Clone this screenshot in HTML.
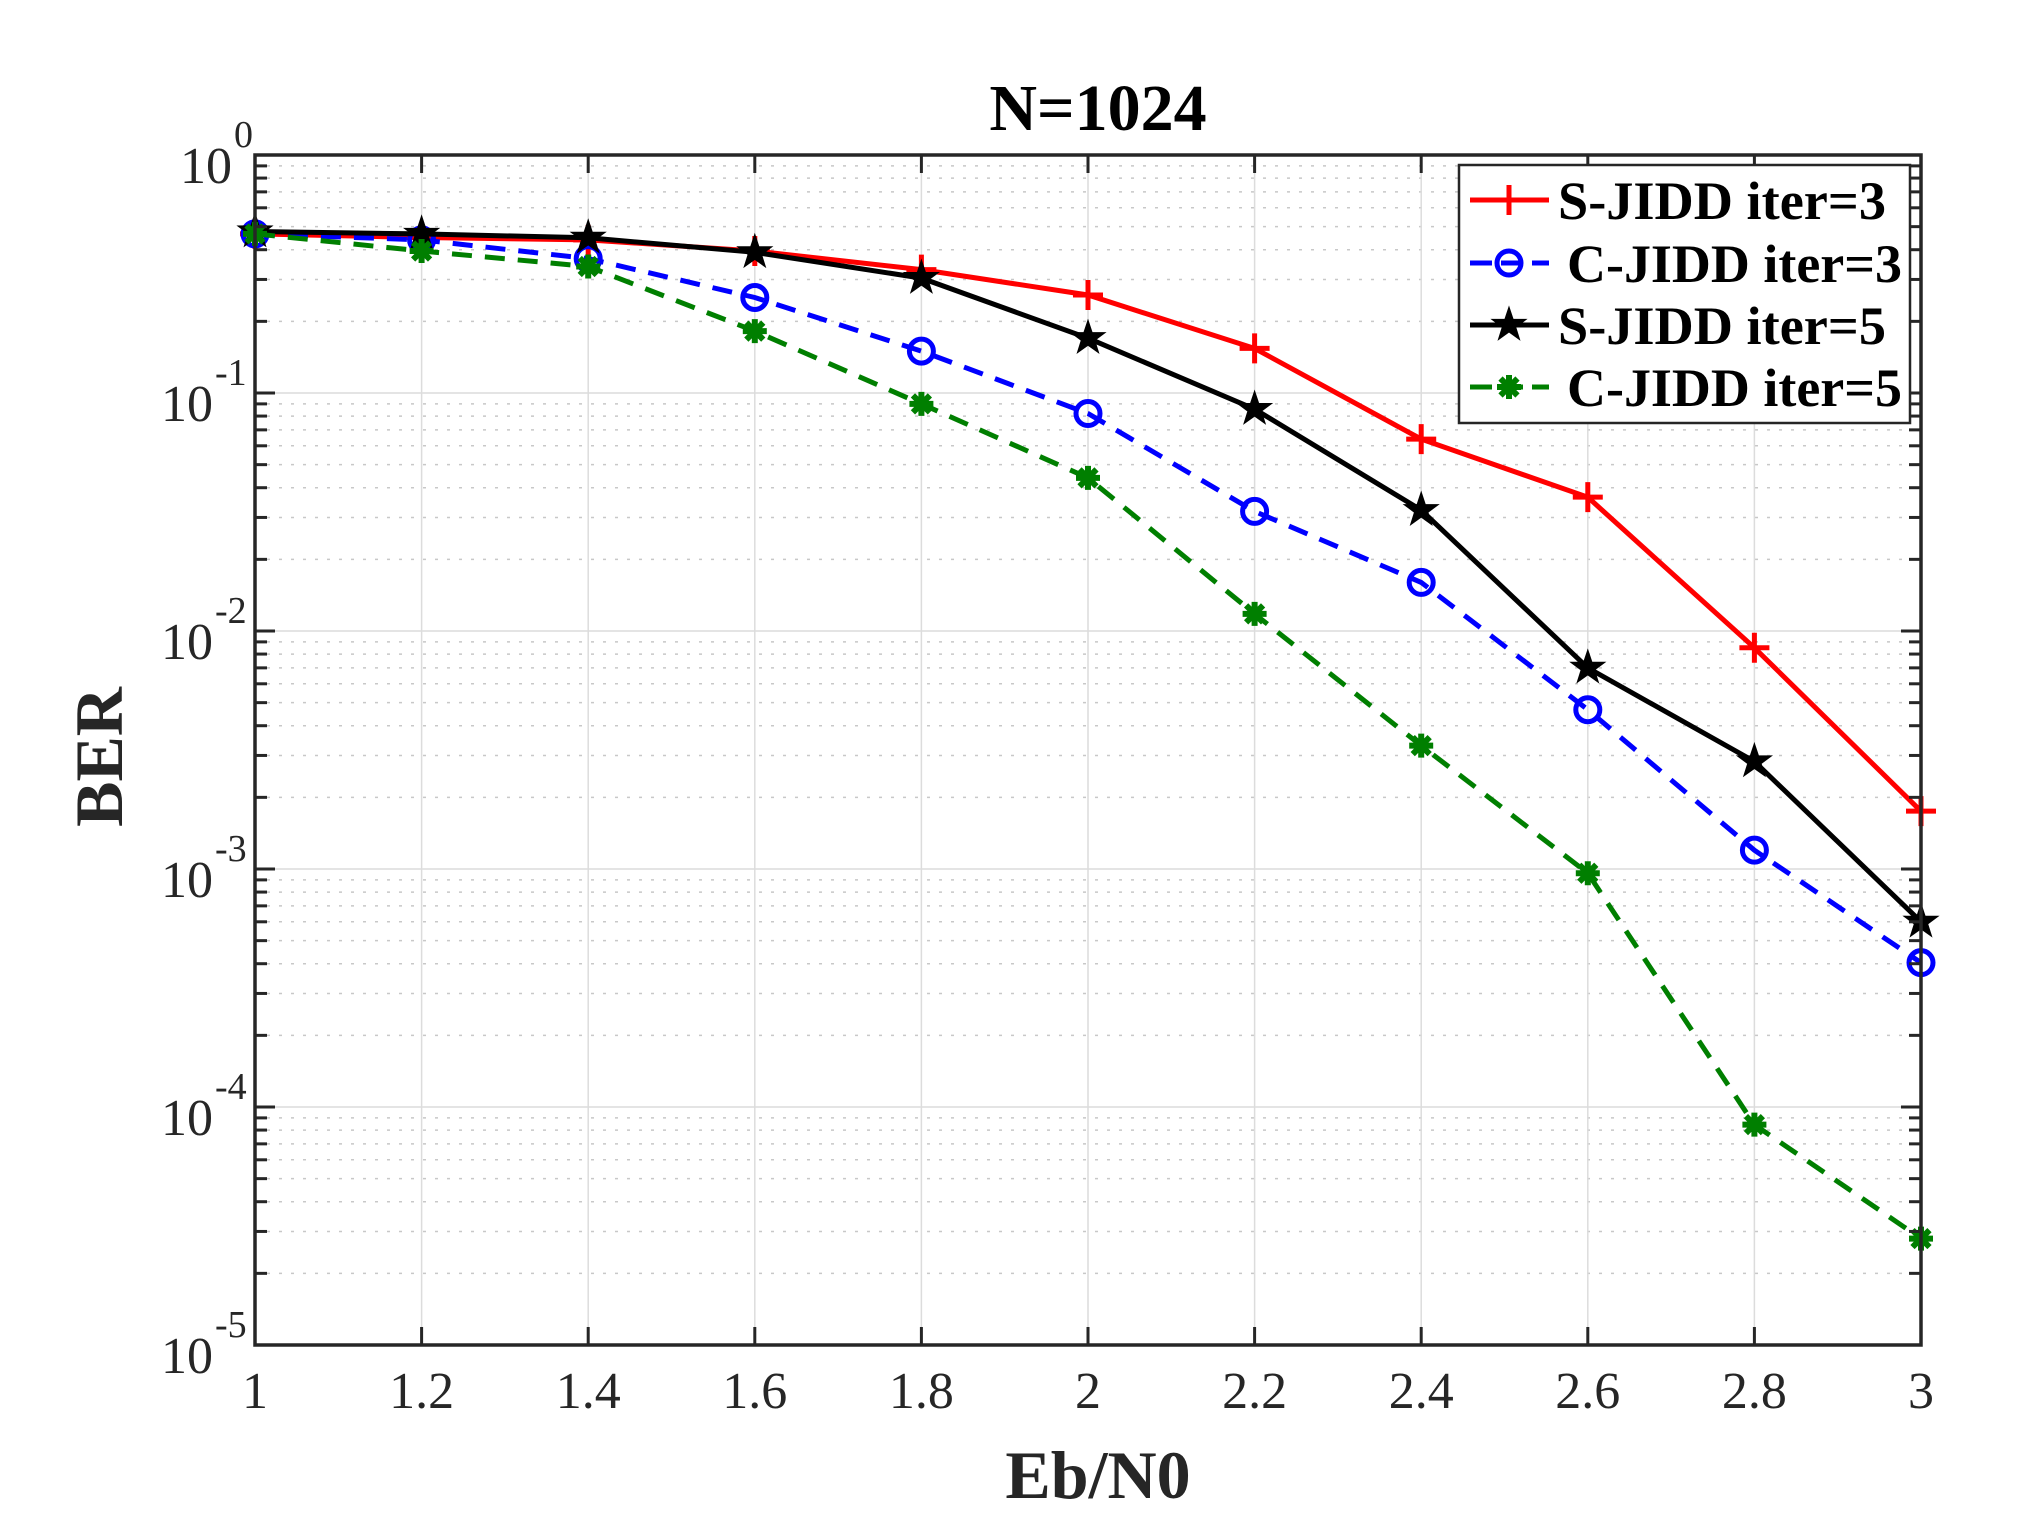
<!DOCTYPE html>
<html><head><meta charset="utf-8"><style>
html,body{margin:0;padding:0;background:#fff;}
svg{display:block;}
text{font-family:"Liberation Serif",serif;fill:#262626;}
</style></head><body>
<svg id="s" width="2025" height="1527" viewBox="0 0 2025 1527" xmlns="http://www.w3.org/2000/svg">
<rect width="2025" height="1527" fill="#fff"/>
<g id="grid"></g>
<g id="series"></g>
<g id="axes"></g>
<text x="1098" y="130" font-size="66" font-weight="bold" text-anchor="middle" style="fill:#000">N=1024</text>
<text x="1098" y="1498" font-size="68" font-weight="bold" text-anchor="middle">Eb/N0</text>
<text transform="translate(122,757) rotate(-90)" font-size="68" font-weight="bold" text-anchor="middle">BER</text>
<g id="legend"></g>
</svg>
<script>
const NS="http://www.w3.org/2000/svg";
const L=255,R=1921,T=155,B=1345,D=238;
const X=x=>L+(x-1)*833, Y=v=>T-Math.log10(v)*D;
function el(p,t,a,txt){const e=document.createElementNS(NS,t);for(const k in a)e.setAttribute(k,a[k]);if(txt!==undefined)e.textContent=txt;document.getElementById(p).appendChild(e);return e;}
for(let d=0;d>=-5;d--){
  const y=T-d*D;
  if(d<0&&d>-5) el('grid','line',{x1:L,x2:R,y1:y,y2:y,stroke:'#dcdcdc','stroke-width':1.5});
  if(d>-5){for(let m=2;m<=9;m++){const yy=Y(Math.pow(10,d-1)*m);
    el('grid','line',{x1:L,x2:R,y1:yy,y2:yy,stroke:'#c8c8c8','stroke-width':1.5,'stroke-dasharray':'3,9'});
    el('axes','line',{x1:L,x2:L+12,y1:yy,y2:yy,stroke:'#262626','stroke-width':3});
    el('axes','line',{x1:R,x2:R-12,y1:yy,y2:yy,stroke:'#262626','stroke-width':3});}}
  el('axes','line',{x1:L,x2:L+20,y1:y,y2:y,stroke:'#262626','stroke-width':3});
  el('axes','line',{x1:R,x2:R-20,y1:y,y2:y,stroke:'#262626','stroke-width':3});
  el('axes','text',{x:d==0?232:213,y:y+28,'font-size':52,'text-anchor':'end'},'10');
  el('axes','text',{x:d==0?234:215,y:y-8,'font-size':38},d==0?'0':String(d));
}
for(let i=0;i<=10;i++){const x=X(1+i*0.2);
  if(i>0&&i<10) el('grid','line',{x1:x,x2:x,y1:T,y2:B,stroke:'#dcdcdc','stroke-width':1.5});
  el('axes','line',{x1:x,x2:x,y1:B,y2:B-18,stroke:'#262626','stroke-width':3});
  el('axes','line',{x1:x,x2:x,y1:T,y2:T+18,stroke:'#262626','stroke-width':3});
  const lab=(1+i*0.2).toFixed(1).replace(/\.0$/,'');
  el('axes','text',{x:x,y:1408,'font-size':52,'text-anchor':'middle'},lab);}
el('axes','rect',{x:L,y:T,width:R-L,height:B-T,fill:'none',stroke:'#262626','stroke-width':3.5});
const xs=[1,1.2,1.4,1.6,1.8,2,2.2,2.4,2.6,2.8,3];
const S=[
 {c:'#ff0000',d:'',m:'plus',v:[0.466,0.45,0.44,0.395,0.33,0.258,0.154,0.064,0.0365,0.0085,0.00175]},
 {c:'#0000ff',d:'20,13',m:'circ',v:[0.466,0.44,0.367,0.252,0.15,0.082,0.0318,0.016,0.00467,0.0012,0.000404]},
 {c:'#000000',d:'',m:'star',v:[0.477,0.466,0.449,0.39,0.304,0.17,0.0856,0.0322,0.007,0.00283,0.0006]},
 {c:'#007f00',d:'20,13',m:'ast',v:[0.466,0.395,0.34,0.182,0.09,0.044,0.0118,0.0033,0.00096,0.0000843,0.000028]}];
function marker(g,m,x,y,c){
  if(m=='plus'){el(g,'path',{d:`M${x-15},${y}H${x+15}M${x},${y-15}V${y+15}`,stroke:c,'stroke-width':5,fill:'none'});}
  else if(m=='circ'){el(g,'circle',{cx:x,cy:y,r:12,stroke:c,'stroke-width':5,fill:'none'});}
  else if(m=='star'){let p='';for(let k=0;k<10;k++){const r=k%2?7:18,a=-Math.PI/2+k*Math.PI/5;p+=(k?'L':'M')+(x+r*Math.cos(a)).toFixed(1)+','+(y+r*Math.sin(a)).toFixed(1);}
    el(g,'path',{d:p+'Z',fill:c,stroke:c,'stroke-width':1});}
  else {let p='';for(let k=0;k<4;k++){const a=k*Math.PI/4;p+=`M${x-12*Math.cos(a)},${y-12*Math.sin(a)}L${x+12*Math.cos(a)},${y+12*Math.sin(a)}`;}
    el(g,'path',{d:p,stroke:c,'stroke-width':6,fill:'none'});}
}
S.forEach(s=>{const pts=xs.map((x,i)=>X(x).toFixed(1)+','+Y(s.v[i]).toFixed(1)).join(' ');
  const a={points:pts,fill:'none',stroke:s.c,'stroke-width':5};if(s.d)a['stroke-dasharray']=s.d;
  el('series','polyline',a);
  xs.forEach((x,i)=>marker('series',s.m,X(x),Y(s.v[i]),s.c));});
el('legend','rect',{x:1459,y:165,width:451,height:258,fill:'#fff',stroke:'#262626','stroke-width':2.5});
const names=['S-JIDD iter=3','C-JIDD iter=3','S-JIDD iter=5','C-JIDD iter=5'];
const ys=[200,263,325,387];
S.forEach((s,i)=>{const y=ys[i];
  const a={x1:1470,x2:1549,y1:y,y2:y,stroke:s.c,'stroke-width':5};if(s.d)a['stroke-dasharray']='22,9';
  el('legend','line',a);marker('legend',s.m,1509,y,s.c);
  const t=el('legend','text',{x:i%2?1567:1558,y:y+19,'font-size':54,'font-weight':'bold',textLength:i%2?335:328,lengthAdjust:'spacingAndGlyphs'},names[i]);t.style.fill='#000';});
</script>
</body></html>
